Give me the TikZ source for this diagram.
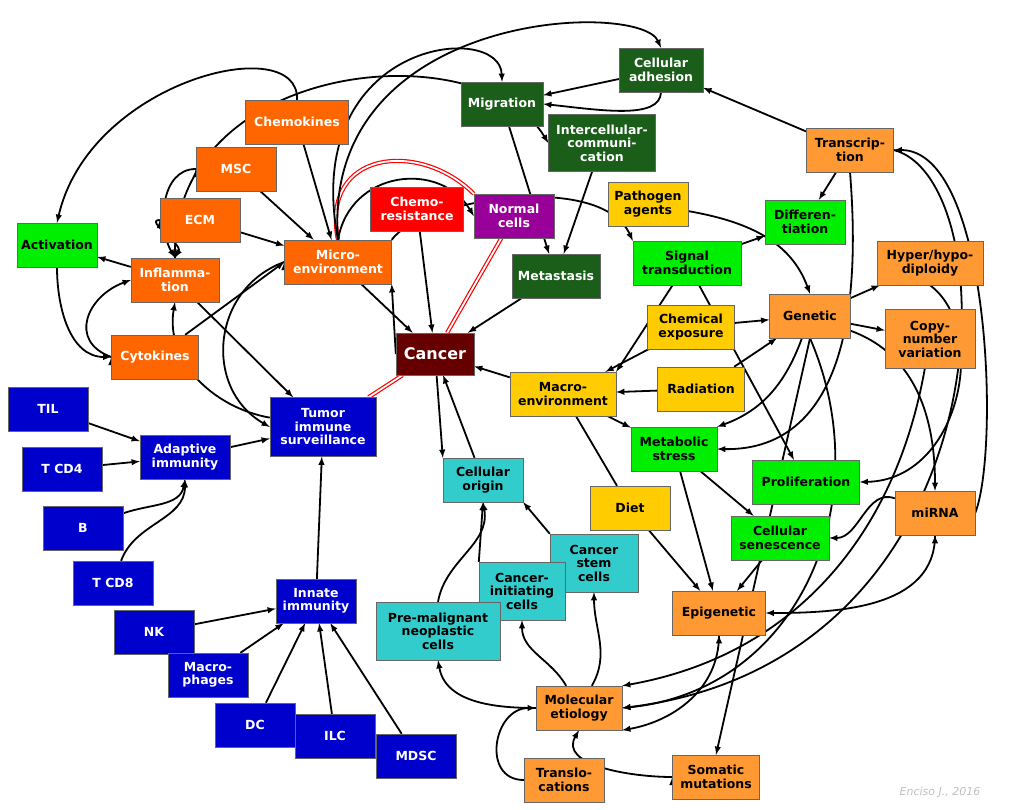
\documentclass[tikz,border=0pt]{standalone}
\usepackage{fontspec}
\setmainfont{DejaVu Sans}
\usetikzlibrary{shapes, arrows, positioning}
\pgfdeclarelayer{background}
\pgfsetlayers{background,main}

\definecolor{darkgr}{HTML}{1A5E1A}
\definecolor{orng}{HTML}{FF6600}
\definecolor{lorng}{HTML}{FF9933}
\definecolor{brgr}{HTML}{00EE00}
\definecolor{yel}{HTML}{FFCC00}
\definecolor{cyn}{HTML}{33CCCC}
\definecolor{blu}{HTML}{0000CC}
\definecolor{purp}{HTML}{990099}
\definecolor{maroon}{HTML}{660000}

\begin{document}
\begin{tikzpicture}[x=1pt, y=-1pt,
block/.style={rectangle, text centered, align=center, draw=black!60, font=\bfseries\fontsize{12.5}{13.5}\selectfont,
minimum width=80pt, minimum height=44pt, inner sep=1pt},
wide/.style={minimum width=#1},
tall/.style={minimum height=#1},
dgreen/.style={block, fill=darkgr, text=white},
orange/.style={block, fill=orng, text=white},
lorange/.style={block, fill=lorng},
green/.style={block, fill=brgr},
yellow/.style={block, fill=yel},
cyan/.style={block, fill=cyn},
blue/.style={block, fill=blu, text=white},
line/.style={draw, line width=1.8pt, -latex},
red-line/.style={draw=red, double=white, double distance=1.8pt, line width=1.2pt}
]
\useasboundingbox (0,0) rectangle (1024,810);

% tumour biology
\node [dgreen, wide=84pt] (adhesion) at (661,70) {Cellular\\adhesion};
\node [dgreen, wide=82pt] (migration) at (502,104) {Migration};
\node [dgreen, wide=107pt, tall=57pt] (intercell) at (602,143) {Intercellular-\\communi-\\cation};
\node [dgreen, wide=88pt] (metastasis) at (556,276) {Metastasis};
\node [block, fill=red, text=white, wide=93pt] (chemores) at (417,209) {Chemo-\\resistance};
\node [block, fill=purp, text=white] (normal) at (514,216) {Normal\\cells};
\node [block, fill=maroon, text=white, wide=78pt, tall=42pt, font=\bfseries\fontsize{16}{17}\selectfont] (cancer) at (435,354) {Cancer};

% micro-environment
\node [orange, wide=103pt] (chemokines) at (297,122) {Chemokines};
\node [orange] (msc) at (236,169) {MSC};
\node [orange] (ecm) at (200,220) {ECM};
\node [orange, wide=107pt] (micro) at (338,262) {Micro-\\environment};
\node [green] (activation) at (57,245) {Activation};
\node [orange, wide=88pt] (inflam) at (175,280) {Inflamma-\\tion};
\node [orange, wide=87pt] (cytokines) at (155,357) {Cytokines};

% immunity
\node [blue, wide=106pt, tall=59pt] (tis) at (323,427) {Tumor\\immune\\surveillance};
\node [blue, wide=90pt] (adaptive) at (185,457) {Adaptive\\immunity};
\node [blue] (innate) at (316,601) {Innate\\immunity};
\node [blue] (til) at (48,409) {TIL};
\node [blue] (tcd4) at (62,469) {T CD4};
\node [blue] (b) at (83,528) {B};
\node [blue] (tcd8) at (113,583) {T CD8};
\node [blue] (nk) at (154,632) {NK};
\node [blue] (macro-ph) at (208,675) {Macro-\\phages};
\node [blue] (dc) at (255,725) {DC};
\node [blue] (ilc) at (335,736) {ILC};
\node [blue] (mdsc) at (416,756) {MDSC};

% macro-environment
\node [yellow] (pathogen) at (648,204) {Pathogen\\agents};
\node [yellow, wide=87pt] (chemical) at (691,327) {Chemical\\exposure};
\node [yellow, wide=87pt] (radiation) at (701,389) {Radiation};
\node [yellow, wide=106pt] (macro) at (563,394) {Macro-\\environment};
\node [yellow] (diet) at (630,508) {Diet};

% signalling
\node [green] (differ) at (805,222) {Differen-\\tiation};
\node [green, wide=108pt] (signal) at (687,263) {Signal\\transduction};
\node [green, wide=86pt] (metabolic) at (674,449) {Metabolic\\stress};
\node [green, wide=107pt] (prolif) at (806,482) {Proliferation};
\node [green, wide=98pt] (senesc) at (780,538) {Cellular\\senescence};

% genetics
\node [lorange, wide=87pt] (transcr) at (850,150) {Transcrip-\\tion};
\node [lorange, wide=106pt] (ploidy) at (930,263) {Hyper/hypo-\\diploidy};
\node [lorange, wide=81pt] (genetic) at (810,316) {Genetic};
\node [lorange, wide=90pt, tall=59pt] (copynum) at (930,339) {Copy-\\number\\variation};
\node [lorange] (mirna) at (935,513) {miRNA};
\node [lorange, wide=93pt] (epigen) at (719,613) {Epigenetic};
\node [lorange, wide=86pt] (molec) at (579,708) {Molecular\\etiology};
\node [lorange] (transloc) at (564,780) {Translo-\\cations};
\node [lorange, wide=87pt] (somatic) at (716,777) {Somatic\\mutations};

% cell of origin
\node [cyan] (origin) at (483,480) {Cellular\\origin};
\node [cyan, wide=88pt, tall=58pt] (stem) at (594,563) {Cancer\\stem\\cells};
\node [cyan, wide=86pt, tall=58pt] (initiating) at (522,591) {Cancer-\\initiating\\cells};
\node [cyan, wide=124pt, tall=58pt] (premalig) at (438,631) {Pre-malignant\\neoplastic\\cells};

\node [font=\itshape\fontsize{11}{12}\selectfont, text=black!25] (sign) at (940,792) {Enciso J., 2016};

\begin{pgfonlayer}{background}
% red links
\path [red-line] (normal) -- (cancer);
\path [red-line] (cancer) -- (tis);
\path [red-line] (micro.north) .. controls (320,150) and (420,140) .. (normal.north west);

% links into cancer
\path [line] (chemores) -- (cancer);
\path [line] (metastasis) -- (cancer);
\path [line] (macro) -- (cancer);
\path [line] (micro) -- (cancer);
\path [line] (cancer.west) -- (micro.south east);
\path [line] (origin) -- (cancer);
\path [line] (cancer) -- (origin.north west);

% tumour biology
\path [line] (adhesion) -- (migration);
\path [line] (migration) -- (metastasis);
\path [line] (intercell) -- (metastasis);
\path [line] (transcr) -- (adhesion);
\path [line] (micro.north) .. controls (350,170) and (440,160) .. (normal.west);
\path [line] (micro.north) .. controls (300,40) and (500,20) .. (migration.north);
\path [line] (micro.north) .. controls (320,10) and (640,0) .. (adhesion.north);
\path [line] (micro.north east) .. controls (420,200) and (600,170) .. (signal.north west);
\path [line] (inflam.north) .. controls (170,60) and (480,30) .. (intercell.west);
\path [line] (adhesion.south) .. controls (660,120) and (600,110) .. (migration.east);
\path [line] (chemokines.north) .. controls (300,30) and (90,80) .. (activation.north);

% micro-environment
\path [line] (chemokines) -- (micro);
\path [line] (msc) -- (micro);
\path [line] (ecm) -- (micro);
\path [line] (cytokines) -- (micro.west);
\path [line] (inflam) -- (activation);
\path [line] (activation) edge[out=-90, in=180, looseness=1] (cytokines);
\path [line] (cytokines.west) edge[out=160, in=200, looseness=1.5] (inflam.west);
\path [line] (msc.west) edge[out=180, in=120, looseness=1] (inflam.north);
\path [line] (ecm.west) edge[out=180, in=60, looseness=1] (inflam.north);
\path [line] (inflam) -- (tis);
\path [line] (tis) edge[out=170, in=-100, looseness=1] (inflam.south);
\path [line] (micro.west) edge[out=200, in=150, looseness=1.2] (tis.west);

% immunity
\path [line] (adaptive) -- (tis);
\path [line] (innate) -- (tis);
\path [line] (til) -- (adaptive);
\path [line] (tcd4) -- (adaptive);
\path [line] (b) edge[out=20, in=-100] (adaptive.south);
\path [line] (tcd8) edge[out=70, in=-90] (adaptive.south);
\path [line] (nk) -- (innate);
\path [line] (macro-ph) -- (innate);
\path [line] (dc) -- (innate);
\path [line] (ilc) -- (innate);
\path [line] (mdsc) -- (innate);

% macro-environment
\path [line] (chemical) -- (macro);
\path [line] (radiation) -- (macro);
\path [line] (chemical) -- (genetic);
\path [line] (radiation) -- (genetic);
\path [line] (pathogen) edge[out=-10, in=110] (genetic.north);
\path [line] (signal) -- (macro.north east);
\path [line] (macro) -- (metabolic);
\path [draw, line width=1.8pt] (macro) -- (diet);
\path [line] (diet) -- (epigen);

% signalling
\path [line] (signal) -- (differ);
\path [line] (transcr) -- (differ);
\path [line] (signal) -- (prolif);
\path [line] (transcr.south) .. controls (870,420) and (780,450) .. (metabolic.east);
\path [line] (metabolic) -- (epigen);
\path [line] (metabolic) -- (senesc);
\path [line] (ploidy.south) .. controls (990,330) and (960,480) .. (prolif.east);

% genetics
\path [line] (genetic) -- (ploidy);
\path [line] (genetic) -- (copynum);
\path [line] (genetic) edge[out=-20, in=90] (mirna.north);
\path [line] (genetic) edge[out=-110, in=20] (metabolic.north east);
\path [line] (genetic.south) -- (somatic.north);
\path [line] (genetic.south) .. controls (880,500) and (800,690) .. (molec.east);
\path [line] (senesc) -- (epigen);
\path [line] (mirna.south) edge[out=-90, in=0] (epigen.east);
\path [line] (mirna) edge[out=160, in=0] (senesc.east);
\path [line] (copynum) edge[out=-100, in=10] (molec.north east);
\path [line] (transcr.east) .. controls (1010,180) and (1010,660) .. (molec.east);
\path [line] (mirna.east) .. controls (1000,450) and (990,150) .. (transcr.east);
\path [line] (epigen.south) edge[out=-90, in=10] (molec.south east);
\path [line] (transloc) edge[out=180, in=180, looseness=1.5] (molec.west);
\path [line] (somatic.west) edge[out=180, in=-120] (molec.south);

% cell of origin
\path [line] (molec) edge[out=180, in=-80] (premalig.south);
\path [line] (molec) edge[out=120, in=-90] (initiating.south);
\path [line] (molec) edge[out=60, in=-90] (stem.south);
\path [line] (premalig.north) edge[out=80, in=-80] (origin.south);
\path [line] (initiating.north west) -- (origin.south);
\path [line] (stem.north west) -- (origin.south east);
\end{pgfonlayer}

\end{tikzpicture}
\end{document}
